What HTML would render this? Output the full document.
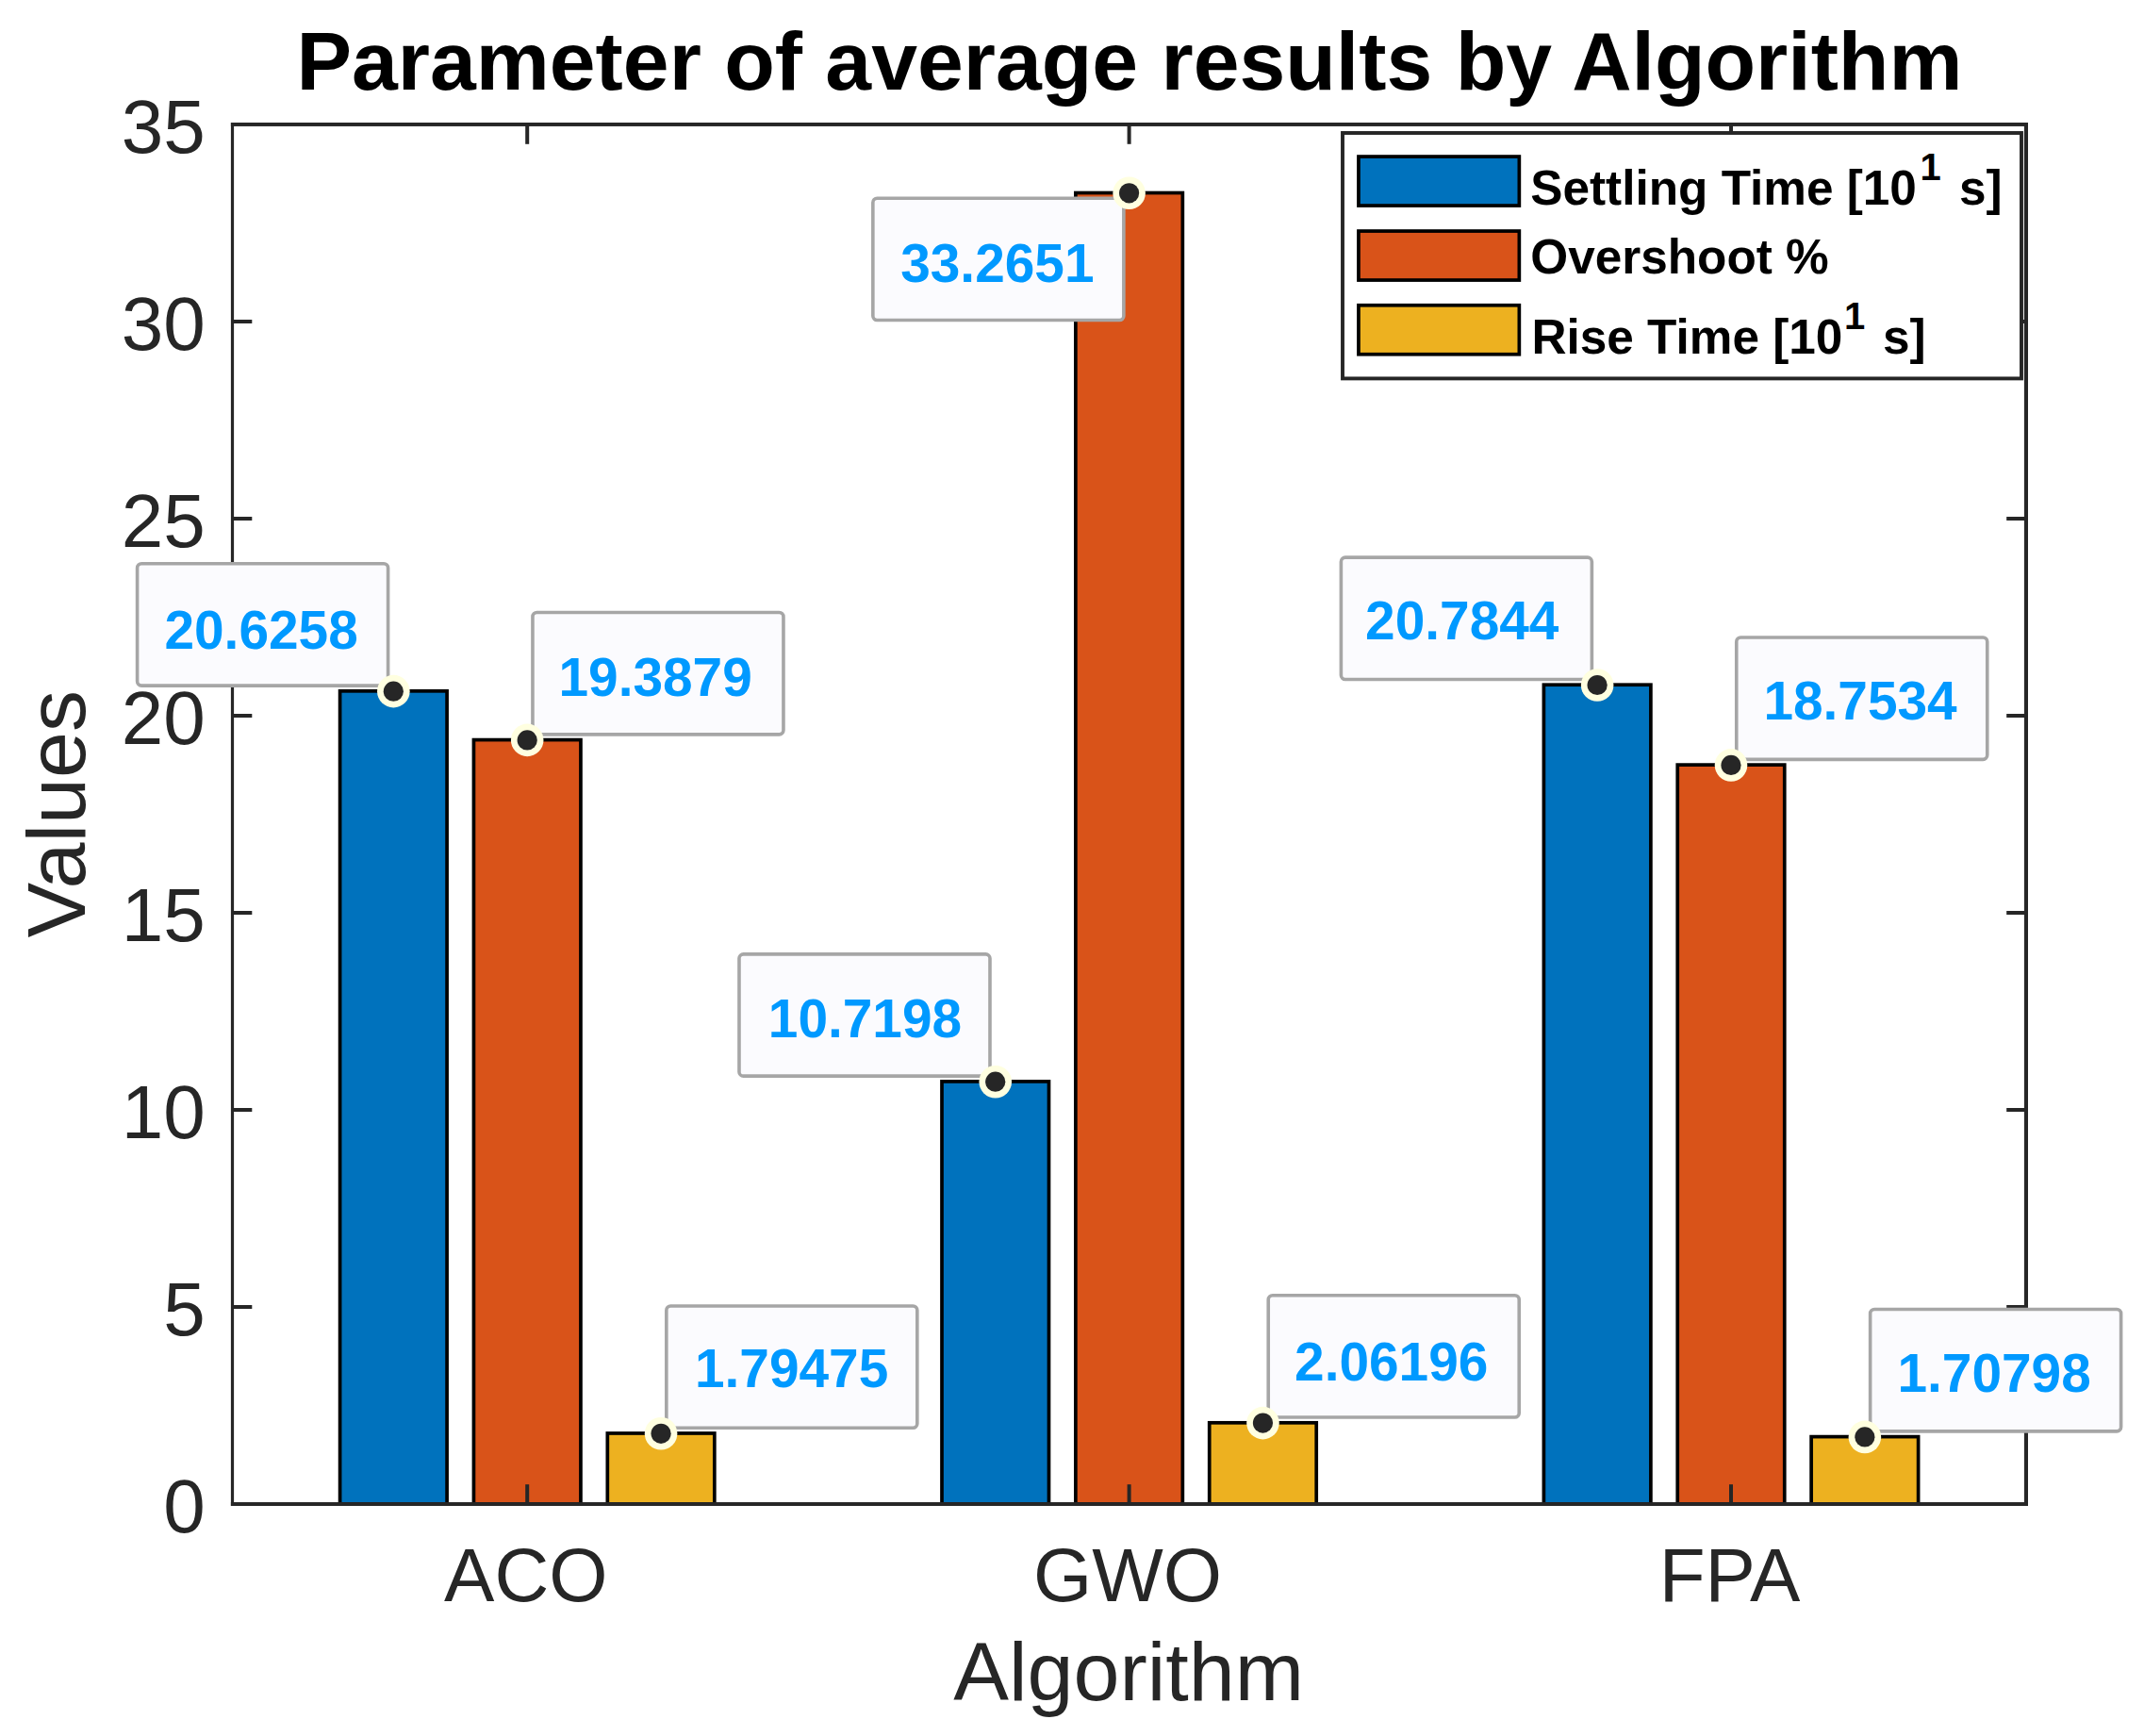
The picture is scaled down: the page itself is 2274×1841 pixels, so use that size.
<!DOCTYPE html>
<html lang="en"><head><meta charset="utf-8"><title>Parameter of average results by Algorithm</title>
<style>
html,body{margin:0;padding:0;background:#fff;}
body{width:2274px;height:1841px;overflow:hidden;}
svg{display:block;}
text{font-family:"Liberation Sans",Arial,Helvetica,sans-serif;}
</style></head><body>
<svg width="2274" height="1841" viewBox="0 0 2274 1841">
<rect x="0" y="0" width="2274" height="1841" fill="#ffffff"/>
<g stroke="#000000" stroke-width="3.70" stroke-linejoin="miter">
<rect x="360.59" y="732.84" width="113.49" height="862.16" fill="#0072BD"/>
<rect x="502.45" y="784.59" width="113.49" height="810.41" fill="#D95319"/>
<rect x="644.32" y="1519.98" width="113.49" height="75.02" fill="#EDB120"/>
<rect x="998.99" y="1146.91" width="113.49" height="448.09" fill="#0072BD"/>
<rect x="1140.85" y="204.52" width="113.49" height="1390.48" fill="#D95319"/>
<rect x="1282.72" y="1508.81" width="113.49" height="86.19" fill="#EDB120"/>
<rect x="1637.39" y="726.21" width="113.49" height="868.79" fill="#0072BD"/>
<rect x="1779.25" y="811.11" width="113.49" height="783.89" fill="#D95319"/>
<rect x="1921.12" y="1523.61" width="113.49" height="71.39" fill="#EDB120"/>
</g>
<g fill="#262626">
<rect x="244.9" y="130.0" width="3.2" height="1467.0"/>
<rect x="2146.9" y="130.0" width="4.1" height="1467.0"/>
<rect x="244.9" y="130.0" width="1906.1" height="3.95"/>
<rect x="244.9" y="1593.05" width="1906.1" height="3.95"/>
<rect x="557.20" y="1574.20" width="4.0" height="20.8"/>
<rect x="557.20" y="132.00" width="4.0" height="20.8"/>
<rect x="1195.60" y="1574.20" width="4.0" height="20.8"/>
<rect x="1195.60" y="132.00" width="4.0" height="20.8"/>
<rect x="1834.00" y="1574.20" width="4.0" height="20.8"/>
<rect x="1834.00" y="132.00" width="4.0" height="20.8"/>
<rect x="246.50" y="1384.00" width="20.8" height="4.0"/>
<rect x="2128.20" y="1384.00" width="20.8" height="4.0"/>
<rect x="246.50" y="1175.00" width="20.8" height="4.0"/>
<rect x="2128.20" y="1175.00" width="20.8" height="4.0"/>
<rect x="246.50" y="966.00" width="20.8" height="4.0"/>
<rect x="2128.20" y="966.00" width="20.8" height="4.0"/>
<rect x="246.50" y="757.00" width="20.8" height="4.0"/>
<rect x="2128.20" y="757.00" width="20.8" height="4.0"/>
<rect x="246.50" y="548.00" width="20.8" height="4.0"/>
<rect x="2128.20" y="548.00" width="20.8" height="4.0"/>
<rect x="246.50" y="339.00" width="20.8" height="4.0"/>
<rect x="2128.20" y="339.00" width="20.8" height="4.0"/>
</g>
<g fill="#262626" font-size="80" text-anchor="end">
<text x="217.8" y="1624.6">0</text>
<text x="217.8" y="1415.6">5</text>
<text x="217.8" y="1206.6">10</text>
<text x="217.8" y="997.6">15</text>
<text x="217.8" y="788.6">20</text>
<text x="217.8" y="579.6">25</text>
<text x="217.8" y="370.6">30</text>
<text x="217.8" y="161.6">35</text>
</g>
<g fill="#262626" font-size="80" text-anchor="middle">
<text x="557.7" y="1698">ACO</text>
<text x="1196.1" y="1698">GWO</text>
<text x="1834.5" y="1698">FPA</text>
</g>
<text x="1197.2" y="1803" fill="#262626" font-size="88" text-anchor="middle">Algorithm</text>
<text transform="translate(89.8,863.3) rotate(-90)" fill="#262626" font-size="88" text-anchor="middle">Values</text>
<text x="1198" y="94.9" fill="#000000" font-size="87.75" font-weight="bold" text-anchor="middle">Parameter of average results by Algorithm</text>
<rect x="1424" y="141" width="720" height="260.4" fill="#ffffff" stroke="#262626" stroke-width="3.9"/>
<rect x="1440.95" y="166.05" width="170.4" height="52" fill="#0072BD" stroke="#000000" stroke-width="3.7"/>
<rect x="1440.95" y="245.05" width="170.4" height="52" fill="#D95319" stroke="#000000" stroke-width="3.7"/>
<rect x="1440.95" y="323.75" width="170.4" height="52" fill="#EDB120" stroke="#000000" stroke-width="3.7"/>
<g fill="#000000" font-size="51.3" font-weight="bold">
<text x="1623.3" y="217.2">Settling Time [10</text>
<text x="2047.7" y="191.4" font-size="40" text-anchor="middle">1</text>
<text x="2078" y="217.2">s]</text>
<text x="1623.3" y="289.6">Overshoot %</text>
<text x="1624.5" y="374.9">Rise Time [10</text>
<text x="1967" y="349.4" font-size="40" text-anchor="middle">1</text>
<text x="1997" y="374.9">s]</text>
</g>
<rect x="145.58" y="597.79" width="266.0" height="129.3" rx="4.5" ry="4.5" fill="#FBFBFE" stroke="#A6A6A6" stroke-width="3.6"/>
<text x="277.08" y="687.74" fill="#0099FF" font-size="56.8" font-weight="bold" text-anchor="middle">20.6258</text>
<rect x="564.95" y="649.54" width="266.0" height="129.3" rx="4.5" ry="4.5" fill="#FBFBFE" stroke="#A6A6A6" stroke-width="3.6"/>
<text x="695.15" y="738.39" fill="#0099FF" font-size="56.8" font-weight="bold" text-anchor="middle">19.3879</text>
<rect x="706.82" y="1384.93" width="266.0" height="129.3" rx="4.5" ry="4.5" fill="#FBFBFE" stroke="#A6A6A6" stroke-width="3.6"/>
<text x="839.62" y="1470.78" fill="#0099FF" font-size="56.8" font-weight="bold" text-anchor="middle">1.79475</text>
<rect x="783.98" y="1011.86" width="266.0" height="129.3" rx="4.5" ry="4.5" fill="#FBFBFE" stroke="#A6A6A6" stroke-width="3.6"/>
<text x="917.48" y="1099.51" fill="#0099FF" font-size="56.8" font-weight="bold" text-anchor="middle">10.7198</text>
<rect x="925.85" y="210.27" width="266.0" height="129.3" rx="4.5" ry="4.5" fill="#FBFBFE" stroke="#A6A6A6" stroke-width="3.6"/>
<text x="1057.85" y="299.12" fill="#0099FF" font-size="56.8" font-weight="bold" text-anchor="middle">33.2651</text>
<rect x="1345.22" y="1373.76" width="266.0" height="129.3" rx="4.5" ry="4.5" fill="#FBFBFE" stroke="#A6A6A6" stroke-width="3.6"/>
<text x="1475.72" y="1463.51" fill="#0099FF" font-size="56.8" font-weight="bold" text-anchor="middle">2.06196</text>
<rect x="1422.38" y="591.16" width="266.0" height="129.3" rx="4.5" ry="4.5" fill="#FBFBFE" stroke="#A6A6A6" stroke-width="3.6"/>
<text x="1550.78" y="678.11" fill="#0099FF" font-size="56.8" font-weight="bold" text-anchor="middle">20.7844</text>
<rect x="1841.75" y="676.06" width="266.0" height="129.3" rx="4.5" ry="4.5" fill="#FBFBFE" stroke="#A6A6A6" stroke-width="3.6"/>
<text x="1973.05" y="762.71" fill="#0099FF" font-size="56.8" font-weight="bold" text-anchor="middle">18.7534</text>
<rect x="1983.62" y="1388.56" width="266.0" height="129.3" rx="4.5" ry="4.5" fill="#FBFBFE" stroke="#A6A6A6" stroke-width="3.6"/>
<text x="2115.12" y="1475.91" fill="#0099FF" font-size="56.8" font-weight="bold" text-anchor="middle">1.70798</text>
<circle cx="417.33" cy="733.14" r="17.3" fill="#FFFFE0"/><circle cx="417.33" cy="733.14" r="10.6" fill="#262626"/>
<circle cx="559.20" cy="784.89" r="17.3" fill="#FFFFE0"/><circle cx="559.20" cy="784.89" r="10.6" fill="#262626"/>
<circle cx="701.07" cy="1520.28" r="17.3" fill="#FFFFE0"/><circle cx="701.07" cy="1520.28" r="10.6" fill="#262626"/>
<circle cx="1055.73" cy="1147.21" r="17.3" fill="#FFFFE0"/><circle cx="1055.73" cy="1147.21" r="10.6" fill="#262626"/>
<circle cx="1197.60" cy="204.82" r="17.3" fill="#FFFFE0"/><circle cx="1197.60" cy="204.82" r="10.6" fill="#262626"/>
<circle cx="1339.47" cy="1509.11" r="17.3" fill="#FFFFE0"/><circle cx="1339.47" cy="1509.11" r="10.6" fill="#262626"/>
<circle cx="1694.13" cy="726.51" r="17.3" fill="#FFFFE0"/><circle cx="1694.13" cy="726.51" r="10.6" fill="#262626"/>
<circle cx="1836.00" cy="811.41" r="17.3" fill="#FFFFE0"/><circle cx="1836.00" cy="811.41" r="10.6" fill="#262626"/>
<circle cx="1977.87" cy="1523.91" r="17.3" fill="#FFFFE0"/><circle cx="1977.87" cy="1523.91" r="10.6" fill="#262626"/>
</svg></body></html>
